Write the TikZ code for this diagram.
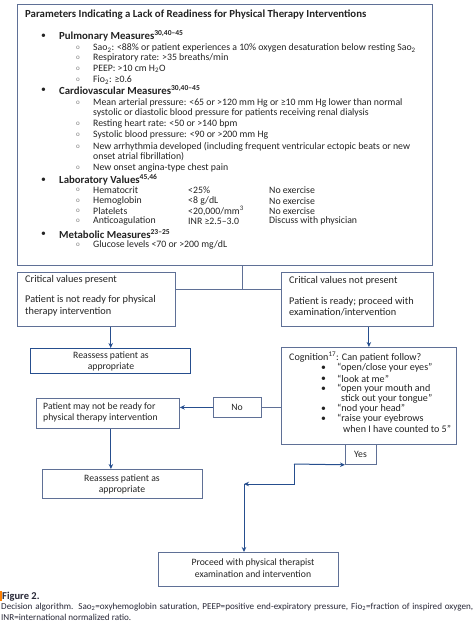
\documentclass[tikz,border=0pt]{standalone}
\usepackage{fontspec}
\setmainfont{Carlito}
\usepackage{xcolor}
\usetikzlibrary{arrows.meta, positioning, calc}

\definecolor{boxc}{RGB}{95,112,150}
\definecolor{arrc}{RGB}{38,78,142}
\definecolor{txtc}{RGB}{35,35,35}
\definecolor{capc}{RGB}{40,40,55}

\tikzset{
  fbox/.style={draw=boxc, line width=0.8pt, inner sep=0pt, anchor=north west},
  txt/.style={anchor=west, inner sep=0pt, text=txtc, font=\fontsize{9.7}{11}\selectfont},
  ptxt/.style={txt, font=\fontsize{9.8}{11}\selectfont},
  ktxt/.style={txt, font=\fontsize{10.3}{11}\selectfont},
  gtxt/.style={txt, font=\fontsize{10.1}{11}\selectfont},
  ctxt/.style={txt, anchor=center},
  hd/.style={txt, font=\fontsize{10.8}{12}\selectfont\bfseries},
  sub/.style={txt, text=gray, font=\fontsize{7}{8}\selectfont},
  conn/.style={draw=boxc, line width=0.8pt},
  arr/.style={-{Stealth[length=5pt,width=4.5pt]}, draw=arrc, line width=1pt}
}

\begin{document}
\begin{tikzpicture}[x=1pt, y=-1pt]
  \useasboundingbox (0,0) rectangle (474,630);

  % --- Parameters box ---
  \node[fbox, minimum width=415pt, minimum height=261pt] (params) at (17,4) {};
  \node[hd] (title) at (25,15) {Parameters Indicating a Lack of Readiness for Physical Therapy Interventions};
  % headings
  \foreach \y/\n in {36/pul, 90/car, 180/lab, 234/met}
    \node[txt] (b\n) at (41,\y) {•};
  \node[hd] (pul) at (59,36) {Pulmonary Measures\textsuperscript{30,40–45}};
  \node[hd] (car) at (59,90) {Cardiovascular Measures\textsuperscript{30,40–45}};
  \node[hd] (lab) at (59,180) {Laboratory Values\textsuperscript{45,46}};
  \node[hd] (met) at (59,234) {Metabolic Measures\textsuperscript{23–25}};
  % sub bullets
  \foreach \y in {48,58,69,80,103,124,135,147,168,190,201,211,221,245}
    \node[sub] (o\y) at (76,\y) {o};
  % pulmonary
  \node[ptxt] (sao) at (93,48) {Sao\textsubscript{2}: <88\% or patient experiences a 10\% oxygen desaturation below resting Sao\textsubscript{2}};
  \node[ptxt] (resp) at (93,58) {Respiratory rate: >35 breaths/min};
  \node[ptxt] (peep) at (93,69) {PEEP: >10 cm H\textsubscript{2}O};
  \node[ptxt] (fio) at (93,80) {Fio\textsubscript{2}: ≥0.6};
  % cardiovascular
  \node[ptxt] (map) at (93,103) {Mean arterial pressure: <65 or >120 mm Hg or ≥10 mm Hg lower than normal};
  \node[ptxt] (map2) at (93,113) {systolic or diastolic blood pressure for patients receiving renal dialysis};
  \node[ptxt] (hr) at (93,124) {Resting heart rate: <50 or >140 bpm};
  \node[ptxt] (sbp) at (93,135) {Systolic blood pressure: <90 or >200 mm Hg};
  \node[ptxt] (arr1) at (93,147) {New arrhythmia developed (including frequent ventricular ectopic beats or new};
  \node[ptxt] (arr2) at (93,157) {onset atrial fibrillation)};
  \node[ptxt] (ang) at (93,168) {New onset angina-type chest pain};
  % laboratory
  \node[ptxt] (hct) at (93,190) {Hematocrit};
  \node[ptxt] (hctv) at (188,190) {<25\%};
  \node[ptxt] (hctn) at (269,190) {No exercise};
  \node[ptxt] (hgb) at (93,201) {Hemoglobin};
  \node[ptxt] (hgbv) at (188,201) {<8 g/dL};
  \node[ptxt] (hgbn) at (269,201) {No exercise};
  \node[ptxt] (plt) at (93,211) {Platelets};
  \node[ptxt] (pltv) at (188,211) {<20,000/mm\textsuperscript{3}};
  \node[ptxt] (pltn) at (269,211) {No exercise};
  \node[ptxt] (inr) at (93,221) {Anticoagulation};
  \node[ptxt] (inrv) at (188,221) {INR ≥2.5–3.0};
  \node[ptxt] (inrn) at (269,221) {Discuss with physician};
  % metabolic
  \node[ptxt] (glu) at (93,245) {Glucose levels <70 or >200 mg/dL};

  % --- Critical values ---
  \node[fbox, minimum width=158pt, minimum height=54pt] (crit) at (17,272) {};
  \node[ktxt] (critt) at (25,280) {Critical values present};
  \node[ktxt] (crit1) at (25,300) {Patient is not ready for physical};
  \node[ktxt] (crit2) at (25,312) {therapy intervention};
  \node[fbox, minimum width=152pt, minimum height=54pt] (nocrit) at (281,272) {};
  \node[ktxt] (nocritt) at (289,281) {Critical values not present};
  \node[ktxt] (nocrit1) at (289,302) {Patient is ready; proceed with};
  \node[ktxt] (nocrit2) at (289,312) {examination/intervention};
  \coordinate (split) at (242,289);
  \draw[conn] (params.south -| split) -- (split);
  \draw[conn] (split -| crit.east) -- (split -| nocrit.west);

  % --- Left branch ---
  \node[fbox, draw=arrc, line width=1.4pt, minimum width=160pt, minimum height=25pt] (reas1) at (30,348) {};
  \node[ctxt] (reas1a) at (111,356) {Reassess patient as};
  \node[ctxt] (reas1b) at (111,367) {appropriate};
  \draw[arr] (reas1.north |- crit.south) -- (reas1.north);

  % --- Cognition ---
  \node[fbox, minimum width=175pt, minimum height=97pt] (cog) at (281,347) {};
  \node[gtxt] (cogt) at (289,357) {Cognition\textsuperscript{17}: Can patient follow?};
  \foreach \y in {368,379,389,409,419}
    \node[txt] (p\y) at (321,\y) {•};
  \node[gtxt] (q1) at (337,368) {“open/close your eyes”};
  \node[gtxt] (q2) at (337,379) {“look at me”};
  \node[gtxt] (q3) at (337,389) {“open your mouth and};
  \node[gtxt] (q3b) at (341,399) {stick out your tongue”};
  \node[gtxt] (q4) at (337,409) {“nod your head”};
  \node[gtxt] (q5) at (337,419) {“raise your eyebrows};
  \node[gtxt] (q5b) at (343,429) {when I have counted to 5”};
  \draw[arr] (cog.north |- nocrit.south) -- (cog.north);

  % --- No ---
  \node[fbox, minimum width=48pt, minimum height=20pt] (no) at (213,397) {};
  \node[ctxt] (not) at (237,407) {No};
  \node[fbox, minimum width=143pt, minimum height=30pt] (maybe) at (36,398) {};
  \node[txt] (maybe1) at (43,407) {Patient may not be ready for};
  \node[txt] (maybe2) at (43,418) {physical therapy intervention};
  \draw[conn] (no.east) -- (no.east -| cog.west);
  \draw[arr] (no.west) -- (no.west -| maybe.east);
  \node[fbox, minimum width=160pt, minimum height=29pt] (reas2) at (42,469) {};
  \node[ctxt] (reas2a) at (122,479) {Reassess patient as};
  \node[ctxt] (reas2b) at (122,490) {appropriate};
  \draw[arr] ([xshift=3pt]maybe.south) -- ([xshift=3pt]maybe.south |- reas2.north);

  % --- Yes ---
  \node[fbox, minimum width=31pt, minimum height=20pt] (yes) at (345,444) {};
  \node[ctxt] (yest) at (360.5,454) {Yes};
  \node[fbox, minimum width=180pt, minimum height=34pt] (proceed) at (158,552) {};
  \node[ctxt] (proc1) at (253,563) {Proceed with physical therapist};
  \node[ctxt] (proc2) at (253,574) {examination and intervention};
  \coordinate (bend1) at (294,464);
  \coordinate (bend2) at (244,484);
  \draw[arr] (bend1) -- (yes.south west);
  \draw[arr] (bend1) |- (bend2);
  \draw[arr] (bend2) -- (bend2 |- proceed.north);

  % --- Caption ---
  \fill[orange] (0,591) rectangle (1.5,601);
  \node[txt, text=capc, font=\fontsize{10.5}{12}\selectfont\bfseries] (fig) at (2,597) {Figure 2.};
  \node[anchor=north west, inner sep=0pt, text=capc, text width=472pt, align=justify,
        font=\fontsize{9.1}{11}\selectfont] (cap) at (1,603)
        {Decision algorithm. Sao\textsubscript{2}=oxyhemoglobin saturation, PEEP=positive end-expiratory pressure, Fio\textsubscript{2}=fraction of inspired oxygen,\linebreak INR=international normalized ratio.};
\end{tikzpicture}
\end{document}
